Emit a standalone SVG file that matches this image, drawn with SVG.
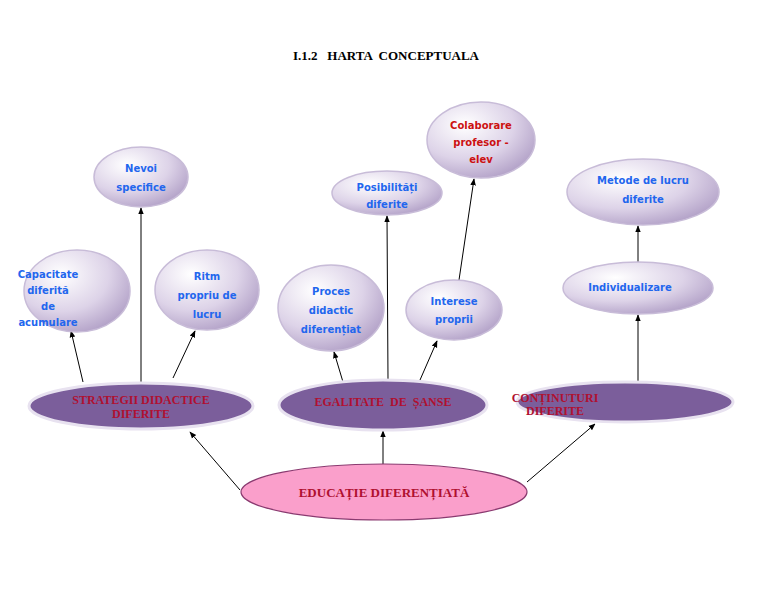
<svg xmlns="http://www.w3.org/2000/svg" width="768" height="594" viewBox="0 0 768 594">
<defs>
<radialGradient id="lav" cx="0.35" cy="0.3" r="0.75"><stop offset="0" stop-color="#ffffff"/><stop offset="0.6" stop-color="#ddd3e8"/><stop offset="1" stop-color="#b3a2c8"/></radialGradient>
<marker id="ah" viewBox="0 0 10 10" refX="9" refY="5" markerWidth="7" markerHeight="7" orient="auto"><path d="M0,1 L10,5 L0,9 z" fill="#000"/></marker>
</defs>
<style>
.sm{fill:url(#lav);stroke:#c8bcd8;stroke-width:1.5}
.big{fill:#7b5e9b;stroke:#e8e2f0;stroke-width:3}
.bl{font-family:"DejaVu Sans",sans-serif;font-weight:bold;font-size:10px;fill:#2266ee;text-anchor:middle}
.rd{font-family:"DejaVu Sans",sans-serif;font-weight:bold;font-size:10px;fill:#cc1111;text-anchor:middle}
.bt{font-family:"Liberation Serif",serif;font-weight:bold;font-size:12px;fill:#b01030;text-anchor:middle}
line{stroke:#000;stroke-width:1;marker-end:url(#ah)}
</style>
<rect width="768" height="594" fill="#fff"/>
<text x="386" y="60" font-family="Liberation Serif,serif" font-weight="bold" font-size="13" text-anchor="middle" xml:space="preserve">I.1.2   HARTA  CONCEPTUALA</text>
<g id="connectors">
<line x1="240" y1="490" x2="190" y2="432"/>
<line x1="383" y1="466" x2="383" y2="431"/>
<line x1="527" y1="482" x2="595" y2="424"/>
<line x1="83" y1="382" x2="71" y2="331"/>
<line x1="141" y1="382" x2="141" y2="208"/>
<line x1="173" y1="378" x2="195" y2="331"/>
<line x1="343" y1="382" x2="334" y2="352"/>
<line x1="388" y1="380" x2="387" y2="216"/>
<line x1="420" y1="380" x2="437" y2="341"/>
<line x1="459" y1="280" x2="474" y2="179"/>
<line x1="638" y1="382" x2="638" y2="315"/>
<line x1="638" y1="262" x2="638" y2="226"/>
</g>
<g id="nevoi"><ellipse class="sm" cx="141" cy="177" rx="47" ry="30"/><text class="bl" x="141" y="172">Nevoi</text><text class="bl" x="141" y="191">specifice</text></g>
<g id="capacitate"><ellipse class="sm" cx="77" cy="291" rx="53" ry="41"/><text class="bl" x="48" y="278" text-anchor="start">Capacitate</text><text class="bl" x="48" y="294" text-anchor="start">diferită</text><text class="bl" x="48" y="310" text-anchor="start">de</text><text class="bl" x="48" y="326" text-anchor="start">acumulare</text></g>
<g id="ritm"><ellipse class="sm" cx="207" cy="290" rx="52" ry="40"/><text class="bl" x="207" y="280">Ritm</text><text class="bl" x="207" y="299">propriu de</text><text class="bl" x="207" y="318">lucru</text></g>
<g id="strategii"><ellipse class="big" cx="141" cy="406" rx="112" ry="23"/><text class="bt" x="141" y="404">STRATEGII DIDACTICE</text><text class="bt" x="141" y="418">DIFERITE</text></g>
<g id="posibilitati"><ellipse class="sm" cx="387" cy="193" rx="55" ry="22"/><text class="bl" x="387" y="191">Posibilități</text><text class="bl" x="387" y="208">diferite</text></g>
<g id="colaborare"><ellipse class="sm" cx="481" cy="140" rx="54" ry="38"/><text class="rd" x="481" y="129">Colaborare</text><text class="rd" x="481" y="146">profesor -</text><text class="rd" x="481" y="163">elev</text></g>
<g id="proces"><ellipse class="sm" cx="331" cy="308" rx="53" ry="43"/><text class="bl" x="331" y="295">Proces</text><text class="bl" x="331" y="314">didactic</text><text class="bl" x="331" y="333">diferențiat</text></g>
<g id="interese"><ellipse class="sm" cx="454" cy="310" rx="48" ry="30"/><text class="bl" x="454" y="305">Interese</text><text class="bl" x="454" y="323">proprii</text></g>
<g id="egalitate"><ellipse class="big" cx="383" cy="405" rx="104" ry="25"/><text class="bt" x="383" y="406" xml:space="preserve">EGALITATE  DE  ȘANSE</text></g>
<g id="metode"><ellipse class="sm" cx="643" cy="192" rx="76" ry="33"/><text class="bl" x="643" y="184">Metode de lucru</text><text class="bl" x="643" y="203">diferite</text></g>
<g id="individualizare"><ellipse class="sm" cx="638" cy="288" rx="75" ry="26"/><text class="bl" x="630" y="291">Individualizare</text></g>
<g id="continuturi"><ellipse class="big" cx="625" cy="402" rx="108" ry="20"/><text class="bt" x="555" y="402" text-anchor="start">CONȚINUTURI</text><text class="bt" x="555" y="415" text-anchor="start">DIFERITE</text></g>
<g id="educatie"><ellipse cx="384" cy="492" rx="143" ry="28" fill="#fa9fcb" stroke="#8a3a70" stroke-width="1.2"/><text x="384" y="497" font-family="Liberation Serif,serif" font-weight="bold" font-size="13" fill="#b01030" text-anchor="middle">EDUCAȚIE  DIFERENȚIATĂ</text></g>
</svg>
